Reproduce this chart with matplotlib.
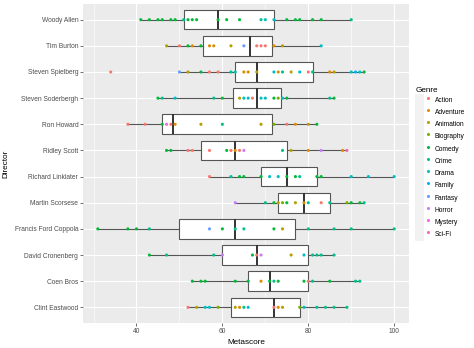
import matplotlib.pyplot as plt
from matplotlib.lines import Line2D
from matplotlib.patches import Patch
from matplotlib.legend_handler import HandlerTuple

# Directors, bottom to top on the y axis
directors = ['Clint Eastwood', 'Coen Bros', 'David Cronenberg', 'Francis Ford Coppola',
             'Martin Scorsese', 'Richard Linklater', 'Ridley Scott', 'Ron Howard',
             'Steven Soderbergh', 'Steven Spielberg', 'Tim Burton', 'Woody Allen']

# Box summaries (lower whisker, Q1, median, Q3, upper whisker) per director
whis_lo = [52, 53, 43, 31, 63, 57, 47, 38, 45, 50, 47, 41]
q1 = [62, 66, 60, 50, 73, 69, 55, 46, 62.5, 63, 55.5, 51]
median = [72, 71, 68, 63, 79, 75, 63, 48.5, 68, 68, 66.5, 59]
q3 = [78, 80, 80, 77, 85, 82, 75, 71.5, 73.75, 81, 71.5, 72]
whis_hi = [89, 92, 86, 100, 93, 100, 89, 82, 86, 93, 83, 90]

# Metascore of each film, with its genre
clint_scores = [52, 54, 56, 57, 59, 63, 64, 65, 66, 72, 73, 74, 78, 79, 82, 84, 86, 89]
clint_genres = ['Action', 'Animation', 'Drama', 'Drama', 'Biography', 'Animation', 'Adventure', 'Crime',
                'Drama', 'Action', 'Adventure', 'Animation', 'Biography', 'Drama', 'Crime', 'Crime',
                'Crime', 'Crime']
coen_scores = [53, 55, 56, 63, 66, 69, 71, 72, 73, 79, 80, 81, 85, 91, 92]
coen_genres = ['Comedy', 'Comedy', 'Comedy', 'Comedy', 'Comedy', 'Adventure', 'Comedy', 'Crime',
               'Comedy', 'Comedy', 'Action', 'Crime', 'Comedy', 'Crime', 'Crime']
cronenberg_scores = [43, 47, 58, 60, 67, 68, 69, 76, 79, 81, 82, 83, 86]
cronenberg_genres = ['Comedy', 'Crime', 'Crime', 'Horror', 'Comedy', 'Action', 'Horror', 'Animation',
                     'Drama', 'Crime', 'Crime', 'Crime', 'Crime']
coppola_scores = [31, 38, 40, 43, 57, 60, 63, 65, 72, 74, 80, 86, 90, 100]
coppola_genres = ['Comedy', 'Comedy', 'Comedy', 'Crime', 'Fantasy', 'Comedy', 'Crime', 'Crime',
                  'Comedy', 'Animation', 'Crime', 'Crime', 'Crime', 'Crime']
scorsese_scores = [63, 70, 72, 73, 74, 75, 77, 79, 80, 83, 85, 89, 90, 92, 93]
scorsese_genres = ['Horror', 'Crime', 'Comedy', 'Animation', 'Biography', 'Comedy', 'Animation',
                   'Adventure', 'Crime', 'Action', 'Crime', 'Biography', 'Comedy', 'Comedy', 'Crime']
linklater_scores = [57, 62, 64, 65, 69, 71, 73, 75, 77, 78, 82, 83, 90, 94, 100]
linklater_genres = ['Action', 'Crime', 'Comedy', 'Comedy', 'Comedy', 'Drama', 'Drama', 'Comedy',
                    'Comedy', 'Crime', 'Comedy', 'Comedy', 'Drama', 'Drama', 'Drama']
ridley_scores = [47, 48, 52, 53, 57, 61, 62, 63, 64, 65, 74, 76, 80, 83, 88, 89]
ridley_genres = ['Comedy', 'Comedy', 'Action', 'Action', 'Action', 'Comedy', 'Action', 'Adventure',
                 'Action', 'Horror', 'Crime', 'Animation', 'Adventure', 'Horror', 'Adventure', 'Sci-Fi']
howard_scores = [38, 42, 46, 47, 48, 49, 55, 60, 69, 72, 75, 77, 80, 82]
howard_genres = ['Action', 'Action', 'Comedy', 'Mystery', 'Action', 'Adventure', 'Animation', 'Crime',
                 'Animation', 'Biography', 'Action', 'Adventure', 'Animation', 'Comedy']
soderbergh_scores = [45, 46, 49, 58, 60, 64, 65, 66, 67, 69, 70, 72, 73, 74, 75, 85, 86]
soderbergh_genres = ['Comedy', 'Crime', 'Drama', 'Crime', 'Comedy', 'Animation', 'Drama', 'Drama',
                     'Action', 'Drama', 'Drama', 'Comedy', 'Biography', 'Drama', 'Comedy', 'Crime',
                     'Comedy']
spielberg_scores = [34, 50, 52, 55, 57, 59, 62, 63, 65, 66, 68, 72, 73, 74, 76, 78, 80, 81, 85, 86,
                    90, 91, 92, 93]
spielberg_genres = ['Action', 'Fantasy', 'Animation', 'Comedy', 'Action', 'Action', 'Crime', 'Drama',
                    'Adventure', 'Adventure', 'Animation', 'Drama', 'Adventure', 'Crime', 'Animation',
                    'Drama', 'Action', 'Crime', 'Adventure', 'Animation', 'Drama', 'Family', 'Drama',
                    'Comedy']
burton_scores = [47, 50, 52, 53, 55, 57, 58, 62, 65, 68, 69, 70, 72, 74, 83]
burton_genres = ['Animation', 'Action', 'Comedy', 'Adventure', 'Comedy', 'Adventure', 'Adventure',
                 'Animation', 'Fantasy', 'Action', 'Action', 'Action', 'Adventure', 'Animation', 'Drama']
allen_scores = [41, 43, 45, 46, 48, 49, 51, 52, 53, 54, 59, 61, 64, 69, 70, 72, 75, 77, 78, 81, 83, 90]
allen_genres = ['Comedy', 'Comedy', 'Comedy', 'Comedy', 'Comedy', 'Comedy', 'Crime', 'Comedy',
                'Comedy', 'Comedy', 'Comedy', 'Comedy', 'Comedy', 'Crime', 'Drama', 'Drama', 'Comedy',
                'Comedy', 'Comedy', 'Comedy', 'Comedy', 'Crime']

scores = [clint_scores, coen_scores, cronenberg_scores, coppola_scores, scorsese_scores,
          linklater_scores, ridley_scores, howard_scores, soderbergh_scores, spielberg_scores,
          burton_scores, allen_scores]
genres = [clint_genres, coen_genres, cronenberg_genres, coppola_genres, scorsese_genres,
          linklater_genres, ridley_genres, howard_genres, soderbergh_genres, spielberg_genres,
          burton_genres, allen_genres]

genre_names = ['Action', 'Adventure', 'Animation', 'Biography', 'Comedy', 'Crime', 'Drama',
               'Family', 'Fantasy', 'Horror', 'Mystery', 'Sci-Fi']
# default ggplot hue palette for 12 levels
genre_colors = ['#F8766D', '#DE8C00', '#B79F00', '#7CAE00', '#00BA38', '#00C08B', '#00BFC4',
                '#00B4F0', '#619CFF', '#C77CFF', '#F564E3', '#FF64B0']
color_of = dict(zip(genre_names, genre_colors))

plt.rcParams['font.family'] = ['Liberation Sans', 'DejaVu Sans']

fig = plt.figure(figsize=(4.74, 3.48), dpi=100)
ax = fig.add_axes([0.1751, 0.0718, 0.8629 - 0.1751, 0.9885 - 0.0718])
ax.set_facecolor('#EBEBEB')

# boxes from the summary stats
positions = list(range(1, len(directors) + 1))
stats = []
for i in range(len(directors)):
    stats.append({'whislo': whis_lo[i], 'q1': q1[i], 'med': median[i],
                  'q3': q3[i], 'whishi': whis_hi[i], 'fliers': []})
ax.bxp(stats, positions=positions, orientation='horizontal', widths=0.75,
       showfliers=False, showcaps=False, patch_artist=True,
       boxprops=dict(facecolor='white', edgecolor='#555555', linewidth=0.8),
       medianprops=dict(color='#333333', linewidth=1.4),
       whiskerprops=dict(color='#555555', linewidth=0.8), zorder=2)

# film points on top of the boxes
for pos, vals, gens in zip(positions, scores, genres):
    ax.scatter(vals, [pos] * len(vals), c=[color_of[g] for g in gens],
               s=5, linewidths=0, zorder=3)

ax.set_xlim(27.55, 103.45)
ax.set_ylim(0.4, 12.6)
ax.set_xticks([40, 60, 80, 100])
ax.set_xticks([30, 50, 70, 90], minor=True)
ax.set_yticks(positions)
ax.set_yticklabels(directors)
ax.grid(which='major', color='white', linewidth=0.8)
ax.grid(which='minor', axis='x', color='white', linewidth=0.4)
ax.set_axisbelow(True)
for s in ax.spines.values():
    s.set_visible(False)
ax.tick_params(axis='both', which='major', labelsize=4.8, labelcolor='#4D4D4D',
               color='#333333', length=2, width=0.5, pad=1.5)
ax.tick_params(axis='x', which='minor', length=0)

ax.set_xlabel('Metascore', fontsize=5.9, labelpad=3)
ax.set_ylabel('Director', fontsize=5.9, labelpad=4)

# genre legend with grey key squares
handles = []
for c in genre_colors:
    handles.append((Patch(facecolor='#F2F2F2', edgecolor='none'),
                    Line2D([], [], marker='o', linestyle='', color=c, markersize=2.2,
                           markeredgewidth=0)))
leg = fig.legend(handles, genre_names, title='Genre', loc='center left',
                 bbox_to_anchor=(0.876, 1 - 163.5 / 348), frameon=False,
                 handler_map={tuple: HandlerTuple(ndivide=None, pad=0)},
                 fontsize=4.8, title_fontsize=5.9, handlelength=2.5, handleheight=2.45,
                 labelspacing=0, handletextpad=0.4, borderpad=0, borderaxespad=0)
leg._legend_box.align = 'left'

fig.savefig('out.png', dpi=100)
